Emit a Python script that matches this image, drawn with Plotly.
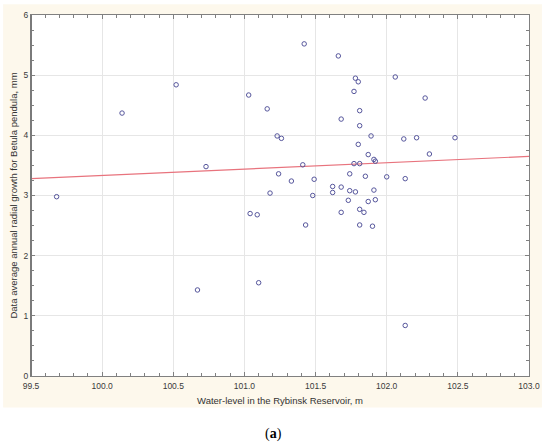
import plotly.graph_objects as go

# water level (m) vs average annual radial growth of Betula pendula (mm)
water_level = [99.68, 100.14, 100.52, 100.67, 100.73, 101.03, 101.04, 101.09, 101.10, 101.16,
               101.18, 101.23, 101.26, 101.24, 101.33, 101.41, 101.42, 101.43, 101.48, 101.49,
               101.62, 101.62, 101.66, 101.68, 101.68, 101.68, 101.73, 101.74, 101.74, 101.77,
               101.77, 101.78, 101.78, 101.80, 101.80, 101.81, 101.81, 101.81, 101.81, 101.81,
               101.84, 101.85, 101.87, 101.87, 101.89, 101.90, 101.91, 101.91, 101.92, 101.92,
               102.00, 102.06, 102.12, 102.13, 102.13, 102.21, 102.27, 102.30, 102.48]
growth = [2.98, 4.37, 4.84, 1.43, 3.48, 4.67, 2.70, 2.68, 1.55, 4.44,
          3.04, 3.99, 3.95, 3.36, 3.24, 3.51, 5.52, 2.51, 3.00, 3.27,
          3.15, 3.05, 5.32, 4.27, 3.14, 2.72, 2.92, 3.36, 3.08, 4.73,
          3.53, 4.95, 3.06, 4.89, 3.85, 4.41, 4.16, 3.53, 2.77, 2.51,
          2.72, 3.32, 3.68, 2.90, 3.99, 2.49, 3.60, 3.09, 3.57, 2.93,
          3.31, 4.97, 3.94, 3.28, 0.84, 3.96, 4.62, 3.69, 3.96]

# fitted line
fit_x = [99.5, 103.0]
fit_y = [3.28, 3.65]

x_ticks = [99.5, 100.0, 100.5, 101.0, 101.5, 102.0, 102.5, 103.0]
y_ticks = [0, 1, 2, 3, 4, 5, 6]

fig = go.Figure()
fig.add_trace(go.Scatter(x=fit_x, y=fit_y, mode="lines",
                         line=dict(color="#e8737d", width=1.2), hoverinfo="skip"))
fig.add_trace(go.Scatter(x=water_level, y=growth, mode="markers",
                         marker=dict(symbol="circle-open", size=4.5, color="#56569c",
                                     line=dict(width=1))))

axis_common = dict(showline=True, linecolor="#808080", linewidth=1, mirror="allticks",
                   ticks="inside", ticklen=4, tickcolor="#808080",
                   showgrid=True, gridcolor="#e6e6e6", gridwidth=1, zeroline=False,
                   tickfont=dict(family="Liberation Sans, Arial", size=8.5, color="#3a3a3a"))

fig.update_xaxes(range=[99.5, 103.0], tickvals=x_ticks,
                 ticktext=[f"{v:.1f}" for v in x_ticks], ticklabelstandoff=2,
                 minor=dict(dtick=0.1, ticks="inside", ticklen=3, tickcolor="#808080", showgrid=False),
                 title=dict(text="Water-level in the Rybinsk Reservoir, m", standoff=7,
                            font=dict(family="Liberation Sans, Arial", size=9.5, color="#333333")),
                 **axis_common)
fig.update_yaxes(range=[0, 6], tickvals=y_ticks,
                 minor=dict(dtick=0.25, ticks="inside", ticklen=3, tickcolor="#808080", showgrid=False),
                 title=dict(text="Data average annual radial growth for Betula pendula, mm", standoff=4,
                            font=dict(family="Liberation Sans, Arial", size=9.5, color="#333333")),
                 **axis_common)

# cream panel behind the chart, white inside the plot area
fig.add_shape(type="rect", xref="paper", yref="paper", x0=-0.056, x1=1.026, y0=-0.087, y1=1.03,
              fillcolor="#fdf8ec", line_width=0, layer="below")
fig.add_shape(type="rect", xref="paper", yref="paper", x0=0, x1=1, y0=0, y1=1,
              fillcolor="white", line_width=0, layer="below")
# the left axis is drawn heavier in the original
fig.add_shape(type="line", xref="paper", yref="paper", x0=0, x1=0, y0=0, y1=1,
              line=dict(color="#7a7a7a", width=2), layer="above")

fig.add_annotation(text="(<b>a</b>)", xref="paper", yref="paper", x=0.487, y=-0.161,
                   yanchor="middle", showarrow=False,
                   font=dict(family="Liberation Serif, DejaVu Serif", size=14, color="black"))

fig.update_layout(width=550, height=447, showlegend=False,
                  margin=dict(l=31, r=18, t=10, b=71),
                  paper_bgcolor="white", plot_bgcolor="white")

# drop the browser's default body margin so the figure sits at the window corner
fig.write_html("out.html", config={"displayModeBar": False},
               post_script="document.body.style.margin='0';")
